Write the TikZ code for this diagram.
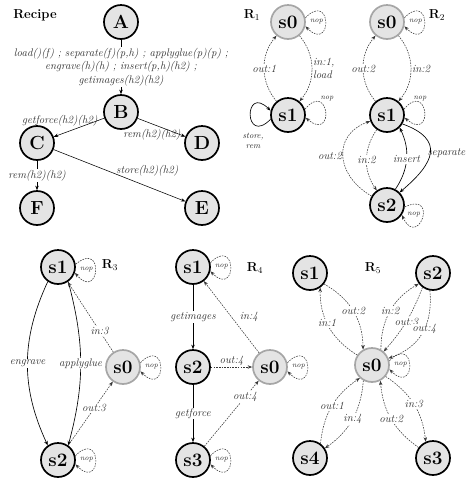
\documentclass[tikz,border=0pt]{standalone}
\usetikzlibrary{arrows.meta,calc}
\definecolor{nodefill}{RGB}{228,228,228}
\definecolor{lblgray}{RGB}{45,45,45}
\definecolor{dashgray}{RGB}{55,55,55}
\newcommand\noploopnl[2]{%
  \draw[dl] ([shift={({#2+14}:18pt)}]#1.center) .. controls +({#2+45}:38pt) and +({#2-45}:38pt) .. ([shift={({#2-14}:18pt)}]#1.center);}
\newcommand\noploop[2]{%
  \noploopnl{#1}{#2}%
  \node[nopl] at ([shift={(#2:28.5pt)}]#1.center) {nop};}
\begin{document}
\begin{tikzpicture}[x=1pt,y=1pt,
  st/.style={circle,draw=black,line width=1.7pt,fill=nodefill,minimum size=34pt,inner sep=0pt,font=\fontsize{19}{19}\selectfont\bfseries},
  sz/.style={st,draw=gray!70},
  lbl/.style={font=\fontsize{11}{12}\selectfont\itshape,text=lblgray,inner sep=1pt},
  wl/.style={lbl,fill=white},
  nopl/.style={font=\fontsize{7.5}{8}\selectfont\itshape,text=lblgray,inner sep=0pt},
  tip/.style={-{Stealth[length=4.5pt,width=3.5pt]}},
  dl/.style={tip,line width=0.55pt,draw=dashgray,dash pattern=on 1.6pt off 1.1pt},
  sl/.style={tip,line width=0.65pt,draw=black},
  rl/.style={tip,line width=0.55pt,draw=black},
  ttl/.style={font=\fontsize{13}{13}\selectfont\bfseries},
]
\useasboundingbox (0,0) rectangle (474,-483);

% ---------- Recipe ----------
\node[ttl] (title) at (35,-15) {Recipe};
\node[st] (A) at (121,-22) {A};
\node[st] (B) at (121,-112) {B};
\node[st] (C) at (37,-143) {C};
\node[st] (D) at (202,-143) {D};
\node[st] (F) at (37,-208) {F};
\node[st] (E) at (202,-208) {E};
\draw[rl] (A) -- node[wl,align=center,font=\fontsize{11}{13.5}\selectfont\itshape]{load()(f) ; separate(f)(p,h) ; applyglue(p)(p) ;\\ engrave(h)(h) ; insert(p,h)(h2) ;\\ getimages(h2)(h2)} (B);
\draw[rl] (B) -- node[lbl,pos=0.88,above=7pt]{getforce(h2)(h2)} (C);
\draw[rl] (B) -- node[lbl,pos=0.3,below=4pt]{rem(h2)(h2)} (D);
\draw[rl] (C) -- node[wl]{rem(h2)(h2)} (F);
\draw[rl] (C) -- node[lbl,pos=0.71,above=9pt]{store(h2)(h2)} (E);

% ---------- R1 ----------
\node[ttl] (r1t) at (252,-15) {R$_1$};
\node[sz] (r1s0) at (288,-22) {s0};
\node[st] (r1s1) at (288,-115) {s1};
\draw[dl] (r1s1) to[bend left=40] node[wl]{out:1} (r1s0);
\draw[dl] (r1s0) to[bend left=40] node[lbl,right,align=left,font=\fontsize{11}{12.5}\selectfont\itshape]{in:1,\\load} (r1s1);
\noploop{r1s0}{0}
\noploopnl{r1s1}{5}
\node[nopl] (r1nop) at (327,-99) {nop};
\draw[sl] ([shift={(194:18pt)}]r1s1.center) .. controls +(225:38pt) and +(135:38pt) .. ([shift={(166:18pt)}]r1s1.center);
\node[nopl,align=center,font=\fontsize{8.5}{10.5}\selectfont\itshape] (r1sr) at (253,-141) {store,\\rem};

% ---------- R2 ----------
\node[ttl] (r2t) at (437,-15) {R$_2$};
\node[sz] (r2s0) at (387,-22) {s0};
\node[st] (r2s1) at (387,-115) {s1};
\node[st] (r2s2) at (387,-205) {s2};
\draw[dl] (r2s1) to[bend left=40] node[wl]{out:2} (r2s0);
\draw[dl] (r2s0) to[bend left=40] node[lbl,right]{in:2} (r2s1);
\noploop{r2s0}{0}
\noploopnl{r2s1}{5}
\node[nopl] (r2nop) at (420,-99) {nop};
\noploop{r2s2}{-20}
\draw[dl] (r2s2.150) to[out=150,in=200,looseness=1.4] node[lbl,left=0pt]{out:2} (r2s1.-160);
\draw[dl] (r2s1.-125) to[bend right=35] node[wl]{in:2} (r2s2.125);
\draw[sl] (r2s2.62) to[bend right=30] node[wl]{insert} (r2s1.-45);
\draw[sl] (r2s1.-30) to[out=-20,in=40,looseness=1.7] node[lbl,right=-4pt]{separate} (r2s2.45);

% ---------- R3 ----------
\node[ttl] (r3t) at (110,-265) {R$_3$};
\node[st] (r3s1) at (58,-267) {s1};
\node[st] (r3s2) at (58,-460) {s2};
\node[sz] (r3s0) at (123,-367) {s0};
\draw[sl] (r3s1.-125) to[bend right=25] node[wl]{engrave} (r3s2.125);
\draw[sl] (r3s1.-55) to[bend left=15] node[wl]{applyglue} (r3s2.55);
\draw[dl] (r3s0) -- node[wl,pos=0.3]{in:3} (r3s1);
\draw[dl] (r3s2) -- node[wl,pos=0.58]{out:3} (r3s0);
\noploop{r3s1}{-5}
\noploop{r3s0}{0}
\noploop{r3s2}{0}

% ---------- R4 ----------
\node[ttl] (r4t) at (255,-268) {R$_4$};
\node[st] (r4s1) at (193,-267) {s1};
\node[st] (r4s2) at (193,-367) {s2};
\node[st] (r4s3) at (193,-460) {s3};
\node[sz] (r4s0) at (270,-367) {s0};
\draw[sl] (r4s1) -- node[wl]{getimages} (r4s2);
\draw[sl] (r4s2) -- node[wl]{getforce} (r4s3);
\draw[dl] (r4s2) -- node[lbl,above]{out:4} (r4s0);
\draw[dl] (r4s0) -- node[lbl,right=7pt]{in:4} (r4s1);
\draw[dl] (r4s3) -- node[wl,pos=0.75]{out:4} (r4s0);
\noploop{r4s1}{0}
\noploop{r4s3}{0}
\noploop{r4s0}{0}

% ---------- R5 ----------
\node[ttl] (r5t) at (373,-268) {R$_5$};
\node[st] (r5s1) at (310,-273) {s1};
\node[st] (r5s2) at (433,-273) {s2};
\node[sz] (r5s0) at (372,-365) {s0};
\node[st] (r5s4) at (310,-458) {s4};
\node[st] (r5s3) at (433,-458) {s3};
\draw[dl] (r5s0.146) to[bend left=30] node[wl,pos=0.55]{in:1} (r5s1.-55);
\draw[dl] (r5s1.-38) to[bend left=30] node[wl]{out:2} (r5s0.120);
\draw[dl] (r5s0.60) to[bend left=30] node[wl]{in:2} (r5s2.217);
\draw[dl] (r5s2.-126) to[bend left=10] node[wl]{out:3} (r5s0.49);
\draw[dl] (r5s2.-100) to[out=-85,in=20,looseness=1.1] node[wl,pos=0.45]{out:4} (r5s0.22);
\draw[dl] (r5s4.54) to[bend left=25] node[wl]{out:1} (r5s0.-133);
\draw[dl] (r5s0.-119) to[bend left=25] node[wl]{in:4} (r5s4.33);
\draw[dl] (r5s3.144) to[bend left=25] node[wl]{out:2} (r5s0.-62);
\draw[dl] (r5s0.-40) to[bend left=25] node[wl]{in:3} (r5s3.114);
\noploop{r5s0}{0}
\end{tikzpicture}
\end{document}
